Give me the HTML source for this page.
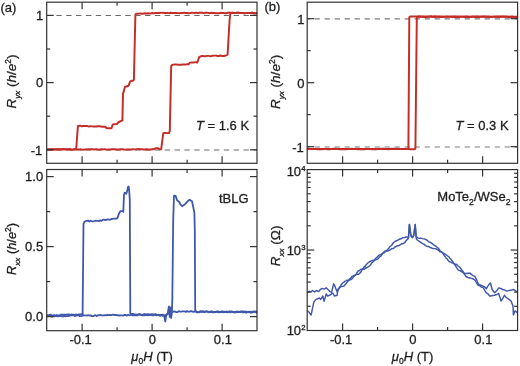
<!DOCTYPE html>
<html><head><meta charset="utf-8"><style>
html,body{margin:0;padding:0;background:#fff;overflow:hidden;}
svg{display:block;}
text{font-family:'Liberation Sans', Arial, sans-serif;fill:#1e1e1e;stroke:#1e1e1e;stroke-width:0.3px;}
</style></head><body>
<svg width="520" height="366" viewBox="0 0 520 366">
<rect width="520" height="366" fill="#fff"/>
<line x1="46.7" y1="15.5" x2="257" y2="15.5" stroke="#6a6a6a" stroke-width="1.2" stroke-dasharray="5.4 4.45" stroke-dashoffset="0.2"/>
<line x1="46.7" y1="150" x2="257" y2="150" stroke="#6a6a6a" stroke-width="1.2" stroke-dasharray="5.4 4.45" stroke-dashoffset="0.2"/>
<polyline points="47.2,149.41 48.72,149.32 50.23,149.56 51.75,149.27 53.26,149.5 54.78,149.41 56.29,149.25 57.81,149.47 59.33,149.23 60.84,149.42 62.36,149.23 63.87,149.24 65.39,149.4 66.91,149.6 68.42,149.24 69.94,149.28 71.45,149.48 72.97,149.63 74.48,149.44 76,149.35 76.2,149.3 77.9,126 78.5,126.19 80,125.68 81.5,126.22 83,125.92 84.5,125.89 86,125.92 87.5,126.09 89,126.44 90.5,126.11 92,126.4 93.5,126.48 95,126.37 96.5,126.53 98,126.29 99.5,126.34 101,126.47 102.5,126.81 104,126.71 105.5,126.69 106.5,128.2 111.5,128.3 112.8,124.4 116.9,124 118.7,122 121.3,120.8 122.4,120.6 123,93.2 123.6,92 124.9,87 127,86.2 128.6,85.7 130.2,81.4 132,80.7 133.4,80.6 133.9,79.5 135.4,14.6 136.3,13.7 137.5,13.74 139,13.62 140.5,13.49 142,13.69 143.5,13.59 145,13.31 146.5,13.42 148,13.34 149.5,13.46 151,13.33 152.5,13.06 154,13.35 155.5,12.87 157,12.97 158.5,13.08 160,12.73 161.5,12.89 163.01,12.63 164.52,13 166.02,13.06 167.53,12.95 169.04,13.13 170.55,12.8 172.06,13.03 173.56,12.97 175.07,12.96 176.58,12.89 178.09,13.12 179.6,13.19 181.1,12.91 182.61,13.02 184.12,12.66 185.63,13.05 187.13,13.02 188.64,13.22 190.15,13.12 191.66,12.8 193.17,12.86 194.67,13.04 196.18,12.65 197.69,12.92 199.2,12.74 200.71,12.71 202.21,12.68 203.72,13.11 205.23,12.72 206.74,12.8 208.25,12.88 209.75,13.17 211.26,12.7 212.77,12.92 214.28,12.99 215.79,13.19 217.29,13.15 218.8,13.18 220.31,12.83 221.82,12.91 223.33,12.88 224.83,13.2 226.34,13.24 227.85,12.76 229.36,12.78 230.87,12.81 232.37,12.81 233.88,12.97 235.39,13.03 236.9,12.84 238.4,12.68 239.91,12.93 241.42,12.91 242.93,13.03 244.44,13.26 245.94,13.1 247.45,13 248.96,13.06 250.47,13.1 251.98,12.73 253.48,13.24 254.99,13.17 256.5,13.22" fill="none" stroke="#c42d27" stroke-width="1.95" stroke-linejoin="round" stroke-linecap="round" />
<polyline points="47.2,149.65 48.7,149.44 50.21,149.44 51.71,149.29 53.22,149.56 54.72,149.27 56.23,149.27 57.73,149.33 59.23,149.31 60.74,149.39 62.24,149.25 63.75,149.22 65.25,149.29 66.75,149.26 68.26,149.39 69.76,149.22 71.27,149.64 72.77,149.51 74.28,149.27 75.78,149.32 77.28,149.37 78.79,149.37 80.29,149.25 81.8,149.61 83.3,149.68 84.81,149.41 86.31,149.42 87.81,149.22 89.32,149.22 90.82,149.34 92.33,149.3 93.83,149.58 95.34,149.24 96.84,149.17 98.34,149.63 99.85,149.42 101.35,149.22 102.86,149.42 104.36,149.16 105.86,149.4 107.37,149.63 108.87,149.57 110.38,149.48 111.88,149.26 113.39,149.31 114.89,149.21 116.39,149.51 117.9,149.38 119.4,149.5 120.91,149.28 122.41,149.22 123.92,149.51 125.42,149.6 126.92,149.53 128.43,149.5 129.93,149.5 131.44,149.46 132.94,149.2 134.45,149.35 135.95,149.26 137.45,149.1 138.96,149.09 140.46,149.22 141.97,149.2 143.47,149.42 144.97,149.55 146.48,149.29 147.98,149.53 149.49,149.55 150.99,149.53 152.5,149.24 154,149.16 155.5,148.2 158,148.3 160,149.4 161.2,149.2 163.2,133.5 164.5,132.9 169,133.1 169.8,131 171.2,66 172.4,64.8 173.5,64.64 175.02,64.57 176.54,64.52 178.06,64.72 179.58,64.84 181.1,64.75 182.62,64.49 184.14,64.54 185.66,64.58 187.18,64.1 188.7,64.4 189.6,62.6 190.5,62.6 191.86,62.54 193.22,62.53 194.58,62.39 195.94,62.24 197.3,62.54 199.2,57.2 201.1,56.2 202.5,55.9 204,56.16 205.5,56.24 207,55.88 208.5,55.86 210,56.17 211.5,56.01 213,55.66 214.5,55.62 216,55.61 217.5,56.04 219,55.96 220.5,55.55 222,55.94 223.5,56.01 225,55.79 227.6,54.7 229,30 229.6,20 230.4,13.4 232.37,12.81 233.88,12.97 235.39,13.03 236.9,12.84 238.4,12.68 239.91,12.93 241.42,12.91 242.93,13.03 244.44,13.26 245.94,13.1 247.45,13 248.96,13.06 250.47,13.1 251.98,12.73 253.48,13.24 254.99,13.17 256.5,13.22" fill="none" stroke="#c42d27" stroke-width="1.95" stroke-linejoin="round" stroke-linecap="round" />
<rect x="46.7" y="2.2" width="210.3" height="161.1" fill="none" stroke="#333333" stroke-width="1.2"/>
<line x1="46.7" y1="15.4" x2="53.7" y2="15.4" stroke="#333333" stroke-width="1.2" />
<line x1="257" y1="15.4" x2="250" y2="15.4" stroke="#333333" stroke-width="1.2" />
<line x1="46.7" y1="49" x2="50.2" y2="49" stroke="#333333" stroke-width="1.2" />
<line x1="257" y1="49" x2="253.5" y2="49" stroke="#333333" stroke-width="1.2" />
<line x1="46.7" y1="82.6" x2="53.7" y2="82.6" stroke="#333333" stroke-width="1.2" />
<line x1="257" y1="82.6" x2="250" y2="82.6" stroke="#333333" stroke-width="1.2" />
<line x1="46.7" y1="116.2" x2="50.2" y2="116.2" stroke="#333333" stroke-width="1.2" />
<line x1="257" y1="116.2" x2="253.5" y2="116.2" stroke="#333333" stroke-width="1.2" />
<line x1="46.7" y1="149.8" x2="53.7" y2="149.8" stroke="#333333" stroke-width="1.2" />
<line x1="257" y1="149.8" x2="250" y2="149.8" stroke="#333333" stroke-width="1.2" />
<line x1="82.1" y1="2.2" x2="82.1" y2="9.2" stroke="#333333" stroke-width="1.2" />
<line x1="82.1" y1="163.3" x2="82.1" y2="156.3" stroke="#333333" stroke-width="1.2" />
<line x1="152.1" y1="2.2" x2="152.1" y2="9.2" stroke="#333333" stroke-width="1.2" />
<line x1="152.1" y1="163.3" x2="152.1" y2="156.3" stroke="#333333" stroke-width="1.2" />
<line x1="222.1" y1="2.2" x2="222.1" y2="9.2" stroke="#333333" stroke-width="1.2" />
<line x1="222.1" y1="163.3" x2="222.1" y2="156.3" stroke="#333333" stroke-width="1.2" />
<line x1="117.1" y1="2.2" x2="117.1" y2="5.7" stroke="#333333" stroke-width="1.2" />
<line x1="117.1" y1="163.3" x2="117.1" y2="159.8" stroke="#333333" stroke-width="1.2" />
<line x1="187.1" y1="2.2" x2="187.1" y2="5.7" stroke="#333333" stroke-width="1.2" />
<line x1="187.1" y1="163.3" x2="187.1" y2="159.8" stroke="#333333" stroke-width="1.2" />
<polyline points="47.2,315.22 48.41,315.42 49.61,314.88 50.82,314.7 52.03,315.81 53.23,315.39 54.44,315.2 55.65,315.65 56.86,315.02 58.06,315.5 59.27,315.41 60.48,314.64 61.68,314.65 62.89,314.66 64.1,314.56 65.3,314.93 66.51,314.5 67.72,314.66 68.92,314.27 70.13,315.17 71.34,314.47 72.54,314.55 73.75,314.67 74.96,315.01 76.17,314.39 77.37,314.95 78.58,314.42 79.79,314.41 80.99,314.37 82.2,313.72 82.6,314.2 83.5,224 84.3,222 85.5,221.13 86.73,220.79 87.96,220.54 89.19,221.47 90.42,220.68 91.65,221.01 92.88,221.29 94.12,221.05 95.35,220.75 96.58,220.95 97.81,220.96 99.04,221.2 100.27,220.36 101.5,220.87 103,219.7 104.23,219.59 105.45,220.04 106.68,219.57 107.91,219.49 109.14,219.58 110.36,219.62 111.59,218.91 112.82,218.97 114.05,218.7 115.27,218.56 116.5,218.63 117.5,218 118.8,214 120.3,211.2 122.6,211 123.3,211.8 124,194.5 124.8,192.7 126.3,193.8 127.4,190 127.9,187 128.6,186.5 129.1,189 129.8,200 130.3,313.5 131,313.84 132.19,314 133.37,313.98 134.56,314.6 135.74,314.36 136.93,314.63 138.11,314.76 139.3,314 140.48,314.42 141.67,314.93 142.85,314.86 144.04,314.08 145.22,314.11 146.41,314.55 147.59,314.16 148.78,314.42 149.96,314.28 151.15,315.05 152.33,315.24 153.52,315.43 154.7,314.6 155.89,315.33 157.07,315.31 158.26,314.75 159.44,315.69 160.63,315.85 161.81,315.01 163,315.94 164.2,315.4 166,315 168,313.5 170,312.5 172.1,312.2 173,311.8 174,311.48 175.2,311.59 176.39,312.2 177.59,312.02 178.78,311.22 179.98,311.55 181.17,311.65 182.37,311.45 183.57,311.28 184.76,311.43 185.96,311.92 187.15,311.09 188.35,311.73 189.54,311.6 190.74,311.1 191.93,311.48 193.13,311.84 194.33,311.71 195.52,311.18 196.72,312.29 197.91,312.06 199.11,312.29 200.3,311.25 201.5,311.45 202.7,311.19 203.89,312.08 205.09,311.48 206.28,311.31 207.48,311.67 208.67,312.26 209.87,312.16 211.07,311.49 212.26,311.36 213.46,312.29 214.65,311.88 215.85,312.04 217.04,311.32 218.24,311.28 219.43,312.05 220.63,311.74 221.83,311.32 223.02,312.36 224.22,312 225.41,312.21 226.61,311.36 227.8,312.29 229,311.35 230.2,312.31 231.39,311.82 232.59,311.69 233.78,311.95 234.98,312.41 236.17,311.62 237.37,311.46 238.57,311.95 239.76,311.6 240.96,311.46 242.15,311.52 243.35,311.4 244.54,311.58 245.74,311.72 246.93,311.72 248.13,312.27 249.33,311.71 250.52,311.97 251.72,311.59 252.91,311.8 254.11,311.41 255.3,311.69 256.5,311.42" fill="none" stroke="#4058aa" stroke-width="1.8" stroke-linejoin="round" stroke-linecap="round" />
<polyline points="47.2,316.48 48.41,316.24 49.61,315.79 50.82,316.12 52.03,316.65 53.23,315.64 54.44,316.48 55.64,316 56.85,316.06 58.06,316.45 59.26,315.91 60.47,316.02 61.68,316.23 62.88,316.56 64.09,315.78 65.29,316.35 66.5,316.18 67.71,316.08 68.91,315.79 70.12,315.7 71.33,315.33 72.53,315.41 73.74,315.32 74.94,316.11 76.15,315.51 77.36,315.38 78.56,315.27 79.77,316.16 80.97,316.18 82.18,315.92 83.39,315.44 84.59,315.37 85.8,315.42 87.01,315.6 88.21,315.22 89.42,315.55 90.62,315.32 91.83,316.14 93.04,316.13 94.24,315.61 95.45,315.23 96.66,316.08 97.86,315.27 99.07,315.31 100.28,314.87 101.48,315.31 102.69,315.4 103.89,315.42 105.1,315.04 106.31,315.39 107.51,314.77 108.72,315.07 109.92,314.84 111.13,315.2 112.34,314.75 113.54,314.71 114.75,315.03 115.96,314.93 117.16,315.34 118.37,315.25 119.58,315.5 120.78,315.37 121.99,315.43 123.19,315.6 124.4,315 125.61,314.91 126.81,315.68 128.02,314.66 129.22,315.34 130.43,315.22 131.64,314.49 132.84,315.42 134.05,315.47 135.26,315.14 136.46,315.25 137.67,315.32 138.88,314.5 140.08,314.95 141.29,314.91 142.49,315.29 143.7,315.23 144.91,315.24 146.11,314.93 147.32,315.29 148.52,315.02 149.73,315.02 150.94,314.44 152.14,314.19 153.35,314.29 154.56,314.55 155.76,314.23 156.97,315.09 158.18,314.74 159.38,314.8 160.59,314.78 161.79,314.83 163,314.59 164.2,315.6 165.3,321.5 166.2,315.2 167.6,314 168.9,306.5 169.7,317 170.5,307.5 171.2,318 171.9,312 172.3,300 173.2,220 174,195.6 175.6,195.9 177.2,200.5 179.3,202 180.5,204.6 182.1,206.2 184.6,204.6 187,202 189.5,199.7 192,201.3 193.6,208.7 194.4,212.8 194.8,230 195.2,311.5 196,311.2 197.21,312.17 198.42,312.11 199.63,311.83 200.84,311.87 202.05,312.03 203.26,311.33 204.47,312.14 205.68,311.57 206.89,311.36 208.1,311.6 209.31,312.16 210.52,311.54 211.73,312.19 212.94,312.48 214.15,311.91 215.36,311.79 216.57,311.91 217.78,312.16 218.99,312.27 220.2,312.1 221.41,312.14 222.62,311.47 223.83,311.56 225.04,311.7 226.25,312.29 227.46,311.77 228.67,312.1 229.88,311.44 231.09,311.5 232.3,311.76 233.51,312.25 234.72,312.29 235.93,312.27 237.14,311.82 238.35,312.1 239.56,312.05 240.77,312.06 241.98,311.65 243.19,312.58 244.4,311.76 245.61,312.7 246.82,312.66 248.03,311.57 249.24,312.1 250.45,312.54 251.66,312.73 252.87,312.12 254.08,311.91 255.29,311.84 256.5,312.73" fill="none" stroke="#4058aa" stroke-width="1.8" stroke-linejoin="round" stroke-linecap="round" />
<rect x="46.7" y="169.5" width="210.3" height="161.2" fill="none" stroke="#333333" stroke-width="1.2"/>
<line x1="46.7" y1="176.6" x2="53.7" y2="176.6" stroke="#333333" stroke-width="1.2" />
<line x1="257" y1="176.6" x2="250" y2="176.6" stroke="#333333" stroke-width="1.2" />
<line x1="46.7" y1="211.6" x2="50.2" y2="211.6" stroke="#333333" stroke-width="1.2" />
<line x1="257" y1="211.6" x2="253.5" y2="211.6" stroke="#333333" stroke-width="1.2" />
<line x1="46.7" y1="246.6" x2="53.7" y2="246.6" stroke="#333333" stroke-width="1.2" />
<line x1="257" y1="246.6" x2="250" y2="246.6" stroke="#333333" stroke-width="1.2" />
<line x1="46.7" y1="281.6" x2="50.2" y2="281.6" stroke="#333333" stroke-width="1.2" />
<line x1="257" y1="281.6" x2="253.5" y2="281.6" stroke="#333333" stroke-width="1.2" />
<line x1="46.7" y1="316.6" x2="53.7" y2="316.6" stroke="#333333" stroke-width="1.2" />
<line x1="257" y1="316.6" x2="250" y2="316.6" stroke="#333333" stroke-width="1.2" />
<line x1="82.1" y1="169.5" x2="82.1" y2="176.5" stroke="#333333" stroke-width="1.2" />
<line x1="82.1" y1="330.7" x2="82.1" y2="323.7" stroke="#333333" stroke-width="1.2" />
<line x1="152.1" y1="169.5" x2="152.1" y2="176.5" stroke="#333333" stroke-width="1.2" />
<line x1="152.1" y1="330.7" x2="152.1" y2="323.7" stroke="#333333" stroke-width="1.2" />
<line x1="222.1" y1="169.5" x2="222.1" y2="176.5" stroke="#333333" stroke-width="1.2" />
<line x1="222.1" y1="330.7" x2="222.1" y2="323.7" stroke="#333333" stroke-width="1.2" />
<line x1="117.1" y1="169.5" x2="117.1" y2="173" stroke="#333333" stroke-width="1.2" />
<line x1="117.1" y1="330.7" x2="117.1" y2="327.2" stroke="#333333" stroke-width="1.2" />
<line x1="187.1" y1="169.5" x2="187.1" y2="173" stroke="#333333" stroke-width="1.2" />
<line x1="187.1" y1="330.7" x2="187.1" y2="327.2" stroke="#333333" stroke-width="1.2" />
<line x1="307.2" y1="18.9" x2="517.6" y2="18.9" stroke="#7c7c7c" stroke-width="1.2" stroke-dasharray="5.3 4.7" stroke-dashoffset="2.6"/>
<line x1="307.2" y1="147" x2="517.6" y2="147" stroke="#7c7c7c" stroke-width="1.2" stroke-dasharray="5.3 4.7" stroke-dashoffset="2.6"/>
<polyline points="307.7,148.91 309.7,149.02 311.69,148.89 313.69,149 315.68,149.13 317.68,148.88 319.68,149.08 321.67,148.99 323.67,149.1 325.66,149.04 327.66,148.9 329.66,149.1 331.65,148.97 333.65,148.83 335.64,148.82 337.64,148.97 339.64,148.95 341.63,148.91 343.63,148.86 345.62,148.92 347.62,148.9 349.62,149.06 351.61,148.81 353.61,149.03 355.6,149.05 357.6,148.84 359.6,149.08 361.59,149.01 363.59,149.06 365.58,148.88 367.58,148.9 369.58,148.91 371.57,149.09 373.57,148.96 375.56,148.89 377.56,148.91 379.56,148.86 381.55,148.79 383.55,148.8 385.54,149.02 387.54,148.86 389.54,149.05 391.53,148.84 393.53,148.84 395.52,148.92 397.52,148.82 399.52,148.87 401.51,149.04 403.51,149.02 405.5,149 407.5,148.94 408.4,148.3 409.3,17.2 410.2,16.4 411,16.52 413,16.54 415,16.42 417.01,16.48 419.01,16.28 421.01,16.49 423.01,16.41 425.01,16.5 427.02,16.47 429.02,16.37 431.02,16.3 433.02,16.57 435.02,16.33 437.02,16.44 439.03,16.41 441.03,16.4 443.03,16.53 445.03,16.61 447.03,16.4 449.04,16.52 451.04,16.42 453.04,16.5 455.04,16.45 457.04,16.39 459.05,16.39 461.05,16.41 463.05,16.62 465.05,16.5 467.05,16.42 469.05,16.63 471.06,16.66 473.06,16.5 475.06,16.41 477.06,16.43 479.06,16.41 481.07,16.48 483.07,16.41 485.07,16.46 487.07,16.47 489.07,16.57 491.08,16.67 493.08,16.63 495.08,16.53 497.08,16.54 499.08,16.57 501.08,16.53 503.09,16.53 505.09,16.45 507.09,16.51 509.09,16.73 511.09,16.48 513.1,16.59 515.1,16.64 517.1,16.71" fill="none" stroke="#c42d27" stroke-width="1.95" stroke-linejoin="round" stroke-linecap="round" />
<polyline points="307.7,149.01 309.72,149.03 311.73,149.02 313.75,149.07 315.76,149.08 317.78,149.24 319.79,149.2 321.81,149.21 323.82,148.96 325.84,148.96 327.85,149.16 329.87,149.22 331.88,149.09 333.9,149.13 335.91,148.95 337.93,149.07 339.94,149.23 341.96,149.2 343.97,149.21 345.99,149.24 348,149.02 350.02,148.98 352.03,149 354.05,149.11 356.06,149.15 358.08,149.23 360.09,149.17 362.11,149.14 364.12,149.18 366.14,149.09 368.15,149.12 370.17,148.96 372.18,149.18 374.2,149.02 376.21,149.23 378.23,149.14 380.24,149.04 382.26,148.99 384.27,149.03 386.29,149.14 388.3,149.16 390.32,148.98 392.33,148.97 394.35,149.11 396.36,149.12 398.38,149.07 400.39,149.02 402.41,149.13 404.42,148.95 406.44,149.04 408.45,149.09 410.47,149.24 412.48,149.14 414.5,149.22 415.4,148.6 416.8,17.6 417.6,17 418.5,16.89 420.51,16.82 422.52,16.82 424.54,17.04 426.55,16.96 428.56,16.84 430.57,16.76 432.59,16.9 434.6,16.95 436.61,16.88 438.62,16.83 440.63,16.95 442.65,17.03 444.66,16.82 446.67,16.76 448.68,16.85 450.7,16.88 452.71,16.95 454.72,16.81 456.73,16.99 458.74,16.97 460.76,16.9 462.77,16.81 464.78,17.04 466.79,16.84 468.81,17 470.82,16.82 472.83,16.82 474.84,16.98 476.86,16.84 478.87,17.04 480.88,16.9 482.89,16.81 484.9,16.82 486.92,16.88 488.93,16.95 490.94,17.03 492.95,16.79 494.97,16.87 496.98,16.81 498.99,17.04 501,16.79 503.01,16.77 505.03,16.77 507.04,16.87 509.05,17.02 511.06,17.02 513.08,16.97 515.09,17.05 517.1,17.03" fill="none" stroke="#c42d27" stroke-width="1.95" stroke-linejoin="round" stroke-linecap="round" />
<rect x="307.2" y="2.2" width="210.4" height="161.1" fill="none" stroke="#333333" stroke-width="1.2"/>
<line x1="307.2" y1="18.7" x2="314.2" y2="18.7" stroke="#333333" stroke-width="1.2" />
<line x1="517.6" y1="18.7" x2="510.6" y2="18.7" stroke="#333333" stroke-width="1.2" />
<line x1="307.2" y1="50.7" x2="310.7" y2="50.7" stroke="#333333" stroke-width="1.2" />
<line x1="517.6" y1="50.7" x2="514.1" y2="50.7" stroke="#333333" stroke-width="1.2" />
<line x1="307.2" y1="82.7" x2="314.2" y2="82.7" stroke="#333333" stroke-width="1.2" />
<line x1="517.6" y1="82.7" x2="510.6" y2="82.7" stroke="#333333" stroke-width="1.2" />
<line x1="307.2" y1="114.7" x2="310.7" y2="114.7" stroke="#333333" stroke-width="1.2" />
<line x1="517.6" y1="114.7" x2="514.1" y2="114.7" stroke="#333333" stroke-width="1.2" />
<line x1="307.2" y1="146.7" x2="314.2" y2="146.7" stroke="#333333" stroke-width="1.2" />
<line x1="517.6" y1="146.7" x2="510.6" y2="146.7" stroke="#333333" stroke-width="1.2" />
<line x1="342.6" y1="163.3" x2="342.6" y2="156.3" stroke="#333333" stroke-width="1.2" />
<line x1="412.6" y1="163.3" x2="412.6" y2="156.3" stroke="#333333" stroke-width="1.2" />
<line x1="482.6" y1="163.3" x2="482.6" y2="156.3" stroke="#333333" stroke-width="1.2" />
<line x1="377.6" y1="163.3" x2="377.6" y2="159.8" stroke="#333333" stroke-width="1.2" />
<line x1="447.6" y1="163.3" x2="447.6" y2="159.8" stroke="#333333" stroke-width="1.2" />
<polyline points="307.6,292.5 309.1,291.2 311.1,291.9 312.5,290.5 314.6,291.9 316.6,290.5 318.7,291.6 320,289.8 322,288.4 324.1,289.1 326.2,287.8 328.2,289.8 330.3,291.9 331.6,292.3 333.7,283.7 335,286.4 337.1,291.9 338.2,289 340,287 341.01,286.56 342.03,286.48 343.04,286.35 344.05,285.98 345.07,284.66 346.08,283.49 347.09,282.21 348.11,281.13 349.12,279.32 350.13,278.66 351.15,277.57 352.16,276.28 353.17,275.91 354.19,275.31 355.2,274.85 356.21,274.29 357.23,272.11 358.24,270.83 359.25,270.67 360.27,269.7 361.28,269.28 362.29,269.32 363.31,269.09 364.32,269.24 365.33,268.26 366.35,267.78 367.36,267.48 368.37,266.72 369.39,266.18 370.4,265.1 371.41,263.6 372.43,262.28 373.44,261.52 374.45,260.49 375.47,259.38 376.48,259.53 377.49,259.1 378.51,258.22 379.52,256.99 380.53,256.41 381.55,255.19 382.56,253.51 383.57,252.68 384.59,251.18 385.6,251.3 387.07,250.12 388.53,248.55 390,246.5 391.67,245.23 393.33,242.75 395,241.5 396.67,240.76 398.33,239.76 400,239 401.53,238.53 403.07,237.63 404.6,237.5 406.25,236.94 407.9,237 408.5,236.5 409.4,224.4 410.9,235.5 412.3,237.6 413.7,235.5 415.2,224.4 416.1,236.5 418,238 419.43,238.17 420.85,238.17 422.27,238.63 423.7,238.9 425.27,239.25 426.85,240.14 428.43,241.59 430,242.2 431.43,243.07 432.85,244.11 434.27,245.28 435.7,246 437.1,247.26 438.5,248.36 439.9,250.48 441.3,251.69 442.7,253 443.71,254.6 444.73,256.14 445.74,257.69 446.75,258.54 447.77,259.95 448.78,261.09 449.79,261.88 450.8,261.93 451.82,262.8 452.83,263.19 453.84,263.46 454.86,264.18 455.87,264.25 456.88,264.73 457.9,265.85 458.91,266.52 459.92,267.38 460.93,268.69 461.95,270.28 462.96,271.47 463.97,272.93 464.99,273.57 466,273.5 468,273.18 470,273.1 471.63,274.63 473.27,275.64 474.9,276.4 476.55,279.81 478.2,283.8 479.83,284.97 481.47,285.54 483.1,286.2 484.75,286.99 486.4,288.7 488.5,285 490.5,283 492.1,289.5 494.6,292.8 496.65,290.8 498.7,287.9 500.75,288.46 502.8,289.5 504.85,290.11 506.9,291.1 508.55,290.62 510.2,290.3 511.8,289.99 513.4,289.5 515.2,290.37 517,292" fill="none" stroke="#4058aa" stroke-width="1.45" stroke-linejoin="round" stroke-linecap="round" />
<polyline points="307.6,311 309.1,312.3 311.1,315.1 312.5,308.3 313.9,302.1 315.9,299.4 318,298.7 319.3,298 320.7,299.4 322.8,296 324.1,301.4 326.2,293.9 327.5,296 329.6,295.3 331.6,293.9 333,293.2 334.4,296 337.1,295.3 337.8,290.5 340,287 341.01,285.13 342.03,283.81 343.04,282.64 344.05,282.14 345.07,281.11 346.08,280.86 347.09,280.15 348.11,280.39 349.12,280.39 350.13,279.69 351.15,279.46 352.16,278.69 353.17,277.39 354.19,276.04 355.2,275.48 356.21,274.42 357.23,274.2 358.24,274.41 359.25,273.81 360.27,272.76 361.28,271.52 362.29,269.4 363.31,267.98 364.32,266.74 365.33,266.23 366.35,264.43 367.36,263.48 368.37,262.51 369.39,261.81 370.4,261.2 371.41,260.98 372.43,260.44 373.44,260.24 374.45,260.3 375.47,258.44 376.48,257.79 377.49,256.68 378.51,255.66 379.52,254.96 380.53,254.57 381.55,254.01 382.56,253.39 383.57,253.07 384.59,252.57 385.6,251.3 387.07,251.08 388.53,250.77 390,250 391.67,248.68 393.33,248.5 395,247 396.67,246.03 398.33,245.84 400,245 401.53,243.83 403.07,243.72 404.6,242.7 406.5,240.2 408.4,238.4 408.6,236.8 409.4,224.4 410.9,235.5 412.3,237.6 413.7,235.5 415.2,224.4 416.1,236.8 416.5,239.4 418.05,240.5 419.6,241.57 421.15,242.65 422.7,243.7 424.16,244.4 425.62,245.59 427.08,246.47 428.54,246.36 430,247.5 431.43,247.82 432.85,248.56 434.27,248.64 435.7,248.7 437.1,249.5 438.5,250.22 439.9,251.73 441.3,251.73 442.7,253 443.71,253.39 444.73,253.86 445.74,254.57 446.75,255.26 447.77,256.04 448.78,256.59 449.79,258.19 450.8,259.06 451.82,260.38 452.83,261.71 453.84,263.6 454.86,264.87 455.87,266.46 456.88,268.09 457.9,269.42 458.91,270.39 459.92,270.66 460.93,271.25 461.95,271.86 462.96,272.47 463.97,273.6 464.99,274.95 466,276.5 468,277.5 470,278 471.63,278.37 473.27,279.04 474.9,280 476.55,282.8 478.2,285.4 479.83,285.66 481.47,287.08 483.1,287.5 484.75,290.41 486.4,292.8 488.05,293.94 489.7,296 491.33,295.92 492.97,295.47 494.6,295.2 496.65,294.54 498.7,293.6 501.1,301 502.75,298.55 504.4,295.2 506.05,297.34 507.7,298.5 509.35,299.66 511,301 513,305.9 513.4,314.9 515.1,310.8 517,312.5" fill="none" stroke="#4058aa" stroke-width="1.45" stroke-linejoin="round" stroke-linecap="round" />
<rect x="307.2" y="169.6" width="210.4" height="160.9" fill="none" stroke="#333333" stroke-width="1.2"/>
<line x1="307.2" y1="306.28" x2="310.7" y2="306.28" stroke="#333333" stroke-width="1.2" />
<line x1="517.6" y1="306.28" x2="514.1" y2="306.28" stroke="#333333" stroke-width="1.2" />
<line x1="307.2" y1="292.12" x2="310.7" y2="292.12" stroke="#333333" stroke-width="1.2" />
<line x1="517.6" y1="292.12" x2="514.1" y2="292.12" stroke="#333333" stroke-width="1.2" />
<line x1="307.2" y1="282.06" x2="310.7" y2="282.06" stroke="#333333" stroke-width="1.2" />
<line x1="517.6" y1="282.06" x2="514.1" y2="282.06" stroke="#333333" stroke-width="1.2" />
<line x1="307.2" y1="274.27" x2="310.7" y2="274.27" stroke="#333333" stroke-width="1.2" />
<line x1="517.6" y1="274.27" x2="514.1" y2="274.27" stroke="#333333" stroke-width="1.2" />
<line x1="307.2" y1="267.9" x2="310.7" y2="267.9" stroke="#333333" stroke-width="1.2" />
<line x1="517.6" y1="267.9" x2="514.1" y2="267.9" stroke="#333333" stroke-width="1.2" />
<line x1="307.2" y1="262.51" x2="310.7" y2="262.51" stroke="#333333" stroke-width="1.2" />
<line x1="517.6" y1="262.51" x2="514.1" y2="262.51" stroke="#333333" stroke-width="1.2" />
<line x1="307.2" y1="257.85" x2="310.7" y2="257.85" stroke="#333333" stroke-width="1.2" />
<line x1="517.6" y1="257.85" x2="514.1" y2="257.85" stroke="#333333" stroke-width="1.2" />
<line x1="307.2" y1="253.73" x2="310.7" y2="253.73" stroke="#333333" stroke-width="1.2" />
<line x1="517.6" y1="253.73" x2="514.1" y2="253.73" stroke="#333333" stroke-width="1.2" />
<line x1="307.2" y1="250.05" x2="314.2" y2="250.05" stroke="#333333" stroke-width="1.2" />
<line x1="517.6" y1="250.05" x2="510.6" y2="250.05" stroke="#333333" stroke-width="1.2" />
<line x1="307.2" y1="225.83" x2="310.7" y2="225.83" stroke="#333333" stroke-width="1.2" />
<line x1="517.6" y1="225.83" x2="514.1" y2="225.83" stroke="#333333" stroke-width="1.2" />
<line x1="307.2" y1="211.67" x2="310.7" y2="211.67" stroke="#333333" stroke-width="1.2" />
<line x1="517.6" y1="211.67" x2="514.1" y2="211.67" stroke="#333333" stroke-width="1.2" />
<line x1="307.2" y1="201.61" x2="310.7" y2="201.61" stroke="#333333" stroke-width="1.2" />
<line x1="517.6" y1="201.61" x2="514.1" y2="201.61" stroke="#333333" stroke-width="1.2" />
<line x1="307.2" y1="193.82" x2="310.7" y2="193.82" stroke="#333333" stroke-width="1.2" />
<line x1="517.6" y1="193.82" x2="514.1" y2="193.82" stroke="#333333" stroke-width="1.2" />
<line x1="307.2" y1="187.45" x2="310.7" y2="187.45" stroke="#333333" stroke-width="1.2" />
<line x1="517.6" y1="187.45" x2="514.1" y2="187.45" stroke="#333333" stroke-width="1.2" />
<line x1="307.2" y1="182.06" x2="310.7" y2="182.06" stroke="#333333" stroke-width="1.2" />
<line x1="517.6" y1="182.06" x2="514.1" y2="182.06" stroke="#333333" stroke-width="1.2" />
<line x1="307.2" y1="177.4" x2="310.7" y2="177.4" stroke="#333333" stroke-width="1.2" />
<line x1="517.6" y1="177.4" x2="514.1" y2="177.4" stroke="#333333" stroke-width="1.2" />
<line x1="307.2" y1="173.28" x2="310.7" y2="173.28" stroke="#333333" stroke-width="1.2" />
<line x1="517.6" y1="173.28" x2="514.1" y2="173.28" stroke="#333333" stroke-width="1.2" />
<line x1="342.6" y1="330.5" x2="342.6" y2="323.5" stroke="#333333" stroke-width="1.2" />
<line x1="342.6" y1="169.6" x2="342.6" y2="176.6" stroke="#333333" stroke-width="1.2" />
<line x1="412.6" y1="330.5" x2="412.6" y2="323.5" stroke="#333333" stroke-width="1.2" />
<line x1="412.6" y1="169.6" x2="412.6" y2="176.6" stroke="#333333" stroke-width="1.2" />
<line x1="482.6" y1="330.5" x2="482.6" y2="323.5" stroke="#333333" stroke-width="1.2" />
<line x1="482.6" y1="169.6" x2="482.6" y2="176.6" stroke="#333333" stroke-width="1.2" />
<line x1="377.6" y1="330.5" x2="377.6" y2="327" stroke="#333333" stroke-width="1.2" />
<line x1="377.6" y1="169.6" x2="377.6" y2="173.1" stroke="#333333" stroke-width="1.2" />
<line x1="447.6" y1="330.5" x2="447.6" y2="327" stroke="#333333" stroke-width="1.2" />
<line x1="447.6" y1="169.6" x2="447.6" y2="173.1" stroke="#333333" stroke-width="1.2" />
<text x="43.2" y="19.7" font-size="13" text-anchor="end" >1</text>
<text x="43.2" y="86.9" font-size="13" text-anchor="end" >0</text>
<text x="42.2" y="155.3" font-size="13" text-anchor="end" >-1</text>
<text x="43.2" y="180.9" font-size="13" text-anchor="end" >1.0</text>
<text x="43.2" y="250.9" font-size="13" text-anchor="end" >0.5</text>
<text x="43.2" y="320.9" font-size="13" text-anchor="end" >0.0</text>
<text x="304.6" y="23.5" font-size="13" text-anchor="end" >1</text>
<text x="304.6" y="87.6" font-size="13" text-anchor="end" >0</text>
<text x="303.8" y="151.5" font-size="13" text-anchor="end" >-1</text>
<text x="301.1" y="175.9" font-size="13" text-anchor="end">10</text>
<text x="301.2" y="171.2" font-size="7.8">4</text>
<text x="301.1" y="254.8" font-size="13" text-anchor="end">10</text>
<text x="301.2" y="249.8" font-size="7.8">3</text>
<text x="301.1" y="334.5" font-size="13" text-anchor="end">10</text>
<text x="301.2" y="329.9" font-size="7.8">2</text>
<text x="80.6" y="344.1" font-size="13" text-anchor="middle" >-0.1</text>
<text x="152.3" y="344.1" font-size="13" text-anchor="middle" >0</text>
<text x="222.9" y="344.1" font-size="13" text-anchor="middle" >0.1</text>
<text x="341.1" y="344.1" font-size="13" text-anchor="middle" >-0.1</text>
<text x="412.8" y="344.1" font-size="13" text-anchor="middle" >0</text>
<text x="483.4" y="344.1" font-size="13" text-anchor="middle" >0.1</text>
<text x="152.1" y="361.3" font-size="13" text-anchor="middle"><tspan font-style="italic">μ</tspan><tspan font-size="8.5" dy="3">0</tspan><tspan font-style="italic" dy="-3">H</tspan> (T)</text>
<text x="412.6" y="361.3" font-size="13" text-anchor="middle"><tspan font-style="italic">μ</tspan><tspan font-size="8.5" dy="3">0</tspan><tspan font-style="italic" dy="-3">H</tspan> (T)</text>
<text x="0.5" y="11.8" font-size="13" text-anchor="start" >(a)</text>
<text x="264.5" y="11.4" font-size="13" text-anchor="start" >(b)</text>
<text x="196" y="129.7" font-size="13"><tspan font-style="italic">T</tspan> = 1.6 K</text>
<text x="455.5" y="129.5" font-size="13"><tspan font-style="italic">T</tspan> = 0.3 K</text>
<text x="219" y="203.3" font-size="13" text-anchor="start" >tBLG</text>
<text x="437.3" y="200.6" font-size="13">MoTe<tspan font-size="8.6" dy="4.3">2</tspan><tspan dy="-4.3">/WSe</tspan><tspan font-size="8.6" dy="4.3">2</tspan></text>
<text transform="translate(16.2,108.6) rotate(-90)" font-size="13.5" text-anchor="start"><tspan font-style="italic">R</tspan><tspan font-size="8" font-style="italic" dy="4.2">yx</tspan><tspan dy="-4.2"> (</tspan><tspan font-style="italic">h</tspan>/<tspan font-style="italic">e</tspan><tspan font-size="8.5" dy="-5">2</tspan><tspan dy="5">)</tspan></text>
<text transform="translate(279.5,108.9) rotate(-90)" font-size="13.5" text-anchor="start"><tspan font-style="italic">R</tspan><tspan font-size="8" font-style="italic" dy="4.2">yx</tspan><tspan dy="-4.2"> (</tspan><tspan font-style="italic">h</tspan>/<tspan font-style="italic">e</tspan><tspan font-size="8.5" dy="-5">2</tspan><tspan dy="5">)</tspan></text>
<text transform="translate(16.2,275) rotate(-90)" font-size="12.9" text-anchor="start"><tspan font-style="italic">R</tspan><tspan font-size="8" font-style="italic" dy="4.2">xx</tspan><tspan dy="-4.2"> (</tspan><tspan font-style="italic">h</tspan>/<tspan font-style="italic">e</tspan><tspan font-size="8.5" dy="-5">2</tspan><tspan dy="5">)</tspan></text>
<text transform="translate(279.8,266.2) rotate(-90)" font-size="13.5" text-anchor="start"><tspan font-style="italic">R</tspan><tspan font-size="8" font-style="italic" dy="4.2">xx</tspan><tspan dy="-4.2"> (Ω)</tspan></text>
</svg>
</body></html>
